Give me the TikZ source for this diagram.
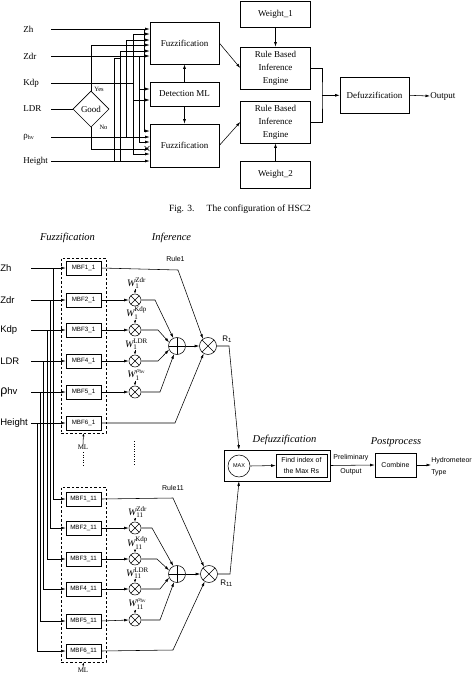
\documentclass[tikz,border=0pt]{standalone}
\usepackage{amsmath}
\usepackage{fontspec}
\setmainfont{Liberation Serif}
\newfontfamily\arialf{Liberation Sans}
\usetikzlibrary{arrows.meta,calc,shapes.geometric}
\begin{document}
\begin{tikzpicture}[x=1pt,y=-1pt,line width=0.55pt,
  >={Latex[length=4.5pt,width=2.8pt]},
  tbox/.style={draw,minimum width=69pt,align=center,inner sep=1pt,font=\fontsize{9}{13}\selectfont},
  tlab/.style={anchor=west,inner sep=0pt,font=\fontsize{9}{10}\selectfont},
  blab/.style={anchor=west,inner sep=0pt,font=\arialf\fontsize{9.5}{10}\selectfont},
  mbf/.style={draw,minimum width=35pt,minimum height=14pt,inner sep=0pt,font=\arialf\fontsize{6.2}{7}\selectfont},
  small/.style={font=\arialf\fontsize{7}{10.5}\selectfont,inner sep=0pt,align=center},
  hdr/.style={font=\itshape\fontsize{10.5}{12}\selectfont,inner sep=0pt},
  otimes/.style={circle,draw,inner sep=0pt,path picture={\draw (path picture bounding box.north west)--(path picture bounding box.south east) (path picture bounding box.north east)--(path picture bounding box.south west);}},
  oplus/.style={circle,draw,inner sep=0pt,path picture={\draw (path picture bounding box.north)--(path picture bounding box.south) (path picture bounding box.east)--(path picture bounding box.west);}},
  wlab/.style={inner sep=0pt,font=\fontsize{10}{10}\selectfont},
  tiny/.style={-{Latex[length=3pt,width=2.2pt]}},
  mlbox/.style={draw,dash pattern=on 2.5pt off 2pt,minimum width=45pt,minimum height=175pt,inner sep=0pt},
  rlab/.style={anchor=west,inner sep=0pt,font=\arialf\fontsize{8}{9}\selectfont}
]
\useasboundingbox (0,0) rectangle (474,673);

% ================= TOP DIAGRAM =================
\node[tbox,minimum height=42pt] (fz1) at (184.5,43) {Fuzzification};
\node[tbox,minimum height=24pt] (det) at (184.5,94) {Detection ML};
\node[tbox,minimum height=43pt] (fz2) at (184.5,145.5) {Fuzzification};
\node[tbox,minimum width=70pt,minimum height=26pt] (wt1) at (275.5,14) {Weight\_1};
\node[tbox,minimum width=70pt,minimum height=42pt] (rb1) at (275.5,68) {Rule Based\\Inference\\Engine};
\node[tbox,minimum width=70pt,minimum height=42pt] (rb2) at (275.5,122) {Rule Based\\Inference\\Engine};
\node[tbox,minimum width=70pt,minimum height=27pt] (wt2) at (275.5,174.8) {Weight\_2};
\node[tbox,minimum height=36pt] (dfz) at (374.5,95.3) {Defuzzification};
\node[tlab] (out) at (430,96) {Output};

\node[tlab] (tzh) at (23,29) {Zh};
\node[tlab] (tzdr) at (23,56) {Zdr};
\node[tlab] (tkdp) at (23,83) {Kdp};
\node[tlab] (tldr) at (23,109) {LDR};
\node[tlab] (trho) at (23,137) {ρ\textsubscript{hv}};
\node[tlab] (tht) at (23,161) {Height};
\coordinate (a1) at (51,29);
\coordinate (a2) at (51,56);
\coordinate (a3) at (51,83);
\coordinate (a4) at (51,109);
\coordinate (a5) at (51,137);
\coordinate (a6) at (51,161);

\node[draw,diamond,aspect=1,minimum width=36pt,minimum height=36pt,inner sep=0pt,font=\fontsize{9}{10}\selectfont] (good) at (91,109) {Good};
\node[inner sep=0pt,font=\fontsize{6.5}{7}\selectfont] (yes) at (99,89) {Yes};
\node[inner sep=0pt,font=\fontsize{6.5}{7}\selectfont] (no) at (103.5,127.5) {No};

% Zh
\draw[->] (a1) -- (a1 -| fz1.west);
\draw[->] (144,29) |- ($(fz2.west)+(0,-14.5)$);
% Zdr
\draw[->] (a2) -- (a2 -| fz1.west);
\draw[->] (139,56) |- ($(fz2.west)+(0,-3.5)$);
\draw[->] (139,89) -- ($(det.west)+(0,-5)$);
% Kdp
\draw (a3) -- (133,83);
\draw[->] (133,154) |- ($(fz1.west)+(0,-9)$);
\draw[->] (133,154) -- ($(fz2.west)+(0,8.5)$);
\draw[->] (133,100) -- ($(det.west)+(0,6)$);
% LDR
\draw (a4) -- (good.west);
\draw[->] (good.north) |- ($(fz1.west)+(0,2)$);
\draw[->] (good.south) |- ($(fz2.west)+(0,3.5)$);
\draw (144.5,146) -- (149.5,151) (144.5,151) -- (149.5,146);
% rho_hv
\draw[->] (a5) -- (a5 -| fz2.west);
\draw[->] (126,137) |- ($(fz1.west)+(0,-3)$);
% Height
\draw[->] (a6) -- (a6 -| fz2.west);
\draw[->] (120,161) |- ($(fz1.west)+(0,8)$);
\draw (114,161) -- (114,58) -- (120,58);

\draw[->] (det.north) -- (fz1.south);
\draw[->] (det.south) -- (fz2.north);
\draw[->] (fz1.east) -- (rb1.west);
\draw[->] (fz2.east) -- (rb2.west);
\draw[->] (wt1.south) -- (rb1.north);
\draw[->] (wt2.north) -- (rb2.south);
\coordinate (brk) at (322,95.3);
\draw (rb1.east) -| (brk) |- (rb2.east);
\draw[->] (brk) -- (dfz.west);
\draw[->] (dfz.east) -- (out.west);

\node[font=\fontsize{9.5}{11}\selectfont] (cap) at (240,209) {Fig. 3.\hspace{1.3em}The configuration of HSC2};

% ================= BOTTOM DIAGRAM =================
\node[hdr] (h1) at (67.5,238) {Fuzzification};
\node[hdr] (h2) at (171.5,238) {Inference};
\node[hdr] (h3) at (284.5,440) {Defuzzification};
\node[hdr] (h4) at (396,442) {Postprocess};

\node[blab] (bzh) at (0,268) {Zh};
\node[blab] (bzdr) at (0,300) {Zdr};
\node[blab] (bkdp) at (0,330) {Kdp};
\node[blab] (bldr) at (0,361) {LDR};
\node[blab] (brho) at (0,392) {{\fontsize{12.5}{12}\selectfont ρ}hv};
\node[blab] (bht) at (0,423) {Height};
\coordinate (b1) at (31,268);
\coordinate (b2) at (31,300);
\coordinate (b3) at (31,330);
\coordinate (b4) at (31,361);
\coordinate (b5) at (31,392);
\coordinate (b6) at (31,423);

\node[mlbox] (mla) at (83.5,345.5) {};
\node[mlbox] (mlb) at (83.5,574.5) {};
\foreach \i/\y in {1/268,2/300,3/330,4/361,5/392,6/423} {\node[mbf] (ma\i) at (83.5,\y) {MBF\i\_1};}
\foreach \i/\y in {1/499,2/528,3/559,4/589,5/621,6/651} {\node[mbf] (mb\i) at (83.5,\y) {MBF\i\_11};}
\foreach \i in {1,...,6} {\draw[->] (b\i) -- (b\i -| ma\i.west);}
\draw[->] (53,268) |- (mb1.west);
\draw[->] (50,300) |- (mb2.west);
\draw[->] (47,330) |- (mb3.west);
\draw[->] (43,361) |- (mb4.west);
\draw[->] (40,392) |- (mb5.west);
\draw[->] (37,423) |- (mb6.west);

\node[inner sep=0pt,font=\fontsize{7}{8}\selectfont] (mlt) at (83,447) {ML};
\draw[tiny] (mlt.north) -- (mla.south);
\node[inner sep=0pt,font=\fontsize{7}{8}\selectfont] (mlbt) at (83,670) {ML};
\draw[tiny] (mlbt.north) -- (mlb.south);
\draw[dotted] (83,452) -- (83,466);
\draw[dotted] (134,441) -- (134,464);

% rule 1
\foreach \i/\y in {2/300,3/330,4/361,5/392} {\node[otimes,minimum size=12pt] (xa\i) at (135,\y) {}; \draw[->] (ma\i.east) -- (xa\i.west);}
\node[wlab] (wa2) at (136.5,283) {$\textit{W}_{\text{1}}^{\text{Zdr}}$};
\node[wlab] (wa3) at (136.5,313) {$\textit{W}_{\text{1}}^{\text{Kdp}}$};
\node[wlab] (wa4) at (136.5,344) {$\textit{W}_{\text{1}}^{\text{LDR}}$};
\node[wlab] (wa5) at (136.5,375) {$\textit{W}_{\text{1}}^{\rho_{\text{hv}}}$};
\foreach \i in {2,3,4,5} {\draw[tiny] (wa\i.south -| xa\i) -- (xa\i.north);}
\node[oplus,minimum size=17pt] (sa) at (177,346) {};
\node[otimes,minimum size=17pt] (pa) at (208,346) {};
\draw[->] (xa2.east) -- (155,300) -- (sa.115);
\draw[->] (xa3.east) -- (158,330) -- (sa.155);
\draw[->] (xa4.east) -- (158,361) -- (sa.205);
\draw[->] (xa5.east) -- (160,392) -- (sa.250);
\draw[->] (sa.east) -- (pa.west);
\draw[->] (ma1.east) -- (178,270) -- (pa.125);
\draw[->] (ma6.east) -- (175,423) -- (pa.240);
\node[small] (r1) at (175.5,259) {Rule1};
\node[rlab] (ra) at (222,339.5) {R\textsubscript{1}};

% rule 11
\foreach \i/\y in {2/528,3/559,4/589,5/620} {\node[otimes,minimum size=12pt] (xb\i) at (135,\y) {}; \draw[->] (mb\i.east) -- (xb\i.west);}
\node[wlab] (wb2) at (137.5,512) {$\textit{W}_{\text{11}}^{\text{Zdr}}$};
\node[wlab] (wb3) at (137.5,543) {$\textit{W}_{\text{11}}^{\text{Kdp}}$};
\node[wlab] (wb4) at (137.5,573) {$\textit{W}_{\text{11}}^{\text{LDR}}$};
\node[wlab] (wb5) at (137.5,604) {$\textit{W}_{\text{11}}^{\rho_{\text{hv}}}$};
\foreach \i in {2,3,4,5} {\draw[tiny] (wb\i.south -| xb\i) -- (xb\i.north);}
\node[oplus,minimum size=17pt] (sb) at (177,574) {};
\node[otimes,minimum size=17pt] (pb) at (209,574) {};
\draw[->] (xb2.east) -- (152,528) -- (sb.115);
\draw[->] (xb3.east) -- (157,559) -- (sb.155);
\draw[->] (xb4.east) -- (160,589) -- (sb.205);
\draw[->] (xb5.east) -- (160,620) -- (sb.250);
\draw[->] (sb.east) -- (pb.west);
\draw[->] (mb1.east) -- (173,498) -- (pb.125);
\draw[->] (mb6.east) -- (173,650) -- (pb.240);
\node[small] (r11) at (173,488) {Rule11};
\node[rlab] (rb) at (220,583) {R\textsubscript{11}};

% defuzzification
\node[draw,minimum width=106pt,minimum height=31pt,inner sep=0pt] (dz) at (277,465.5) {};
\node[circle,draw,minimum size=22pt,inner sep=0pt,font=\arialf\fontsize{5.5}{6}\selectfont] (max) at (239,466) {MAX};
\node[draw,minimum width=51pt,minimum height=23pt,inner sep=0pt,small] (find) at (301.5,465.5) {Find index of\\the Max Rs};
\draw[->] (max.east) -- (find.west);
\draw[->] (pa.east) -- (229,346) -- (max.north |- dz.north);
\draw[->] (pb.east) -- (230,574) -- (max.south |- dz.south);
\node[draw,minimum width=41pt,minimum height=24pt,inner sep=0pt,small] (comb) at (395.5,465) {Combine};
\draw[->] (dz.east) -- (comb.west);
\node[small] (pre) at (351,457.5) {Preliminary};
\node[small] (pout) at (351,472) {Output};
\coordinate (hy) at (431,465);
\draw[->] (comb.east) -- (hy);
\node[small,anchor=west] (hyd) at (431,460.5) {Hydrometeor};
\node[small,anchor=west] (typ) at (431,473) {Type};
\end{tikzpicture}
\end{document}
